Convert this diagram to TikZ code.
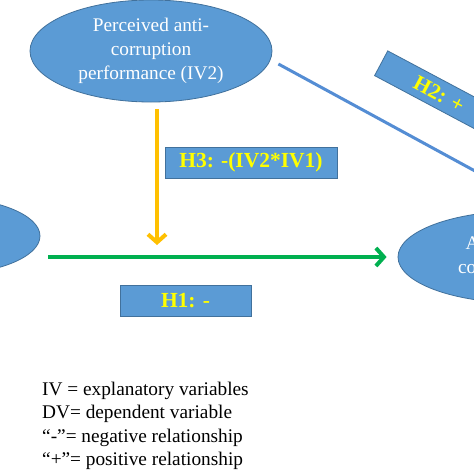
\documentclass[tikz,border=0pt]{standalone}
\usepackage{fontspec}
\setmainfont{Liberation Serif}
\usetikzlibrary{shapes.geometric,arrows.meta,calc}
\definecolor{fillblue}{RGB}{91,155,213}
\definecolor{edgeblue}{RGB}{65,113,156}
\definecolor{lineblue}{RGB}{84,141,212}
\definecolor{hyellow}{RGB}{255,255,0}
\definecolor{harrow}{RGB}{255,192,0}
\definecolor{hgreen}{RGB}{0,176,80}
\begin{document}
\begin{tikzpicture}[x=1pt,y=-1pt,
  oval/.style={ellipse, draw=edgeblue, line width=0.8pt, fill=fillblue, inner sep=0pt,
    text=white, align=center, font=\fontsize{19.3}{24}\selectfont},
  hbox/.style={rectangle, draw=edgeblue, line width=0.8pt, fill=fillblue, inner sep=0pt,
    text=hyellow, font=\fontsize{21.5}{24}\selectfont\bfseries},
  legend/.style={anchor=base west, inner sep=0pt, font=\fontsize{19.3}{24}\selectfont},
  barb/.style={-{Straight Barb[length=8pt,width=18pt]}}]
\useasboundingbox (0,0) rectangle (474,474);
\clip (0,0) rectangle (474,474);
\fill[white] (0,0) rectangle (474,474);
% ellipses
\node[oval, minimum width=242pt, minimum height=102pt] (iv2) at (151,51)
  {Perceived anti-\\corruption\\performance (IV2)};
\node[oval, minimum width=200pt, minimum height=78pt] (iv1) at (-60,236) {};
\node[oval, minimum width=246pt, minimum height=92pt] (dv) at (521,257)
  {Acceptance of\\corruption (DV)};
% connectors
\draw[lineblue, line width=3pt] ($(iv2.east)+(6,13)$) -- ($(dv.north)+(-10,-20)$);
\coordinate (modtip) at (157,245);
\draw[harrow, line width=4pt, barb] ($(iv2.south)+(6,7)$) -- (modtip);
\draw[hgreen, line width=4pt, barb] ($(iv1.east |- dv.west)+(8,0)$) -- ($(dv.west)+(-11,0)$);
% hypothesis boxes
\node[hbox, minimum width=172pt, minimum height=31pt] (h3) at (251,162.5) {H3: -(IV2*IV1)};
\node[hbox, minimum width=131pt, minimum height=31pt] (h1) at (185.5,300.5) {H1: -};
\node[hbox, minimum width=131pt, minimum height=28pt, rotate=-28] (h2) at (439,94) {H2: +};
% legend
\node[legend] (l1) at (42,395) {IV = explanatory variables};
\node[legend] (l2) at (42,418) {DV= dependent variable};
\node[legend] (l3) at (42,442) {“-”= negative relationship};
\node[legend] (l4) at (42,465) {“+”= positive relationship};
\end{tikzpicture}
\end{document}
